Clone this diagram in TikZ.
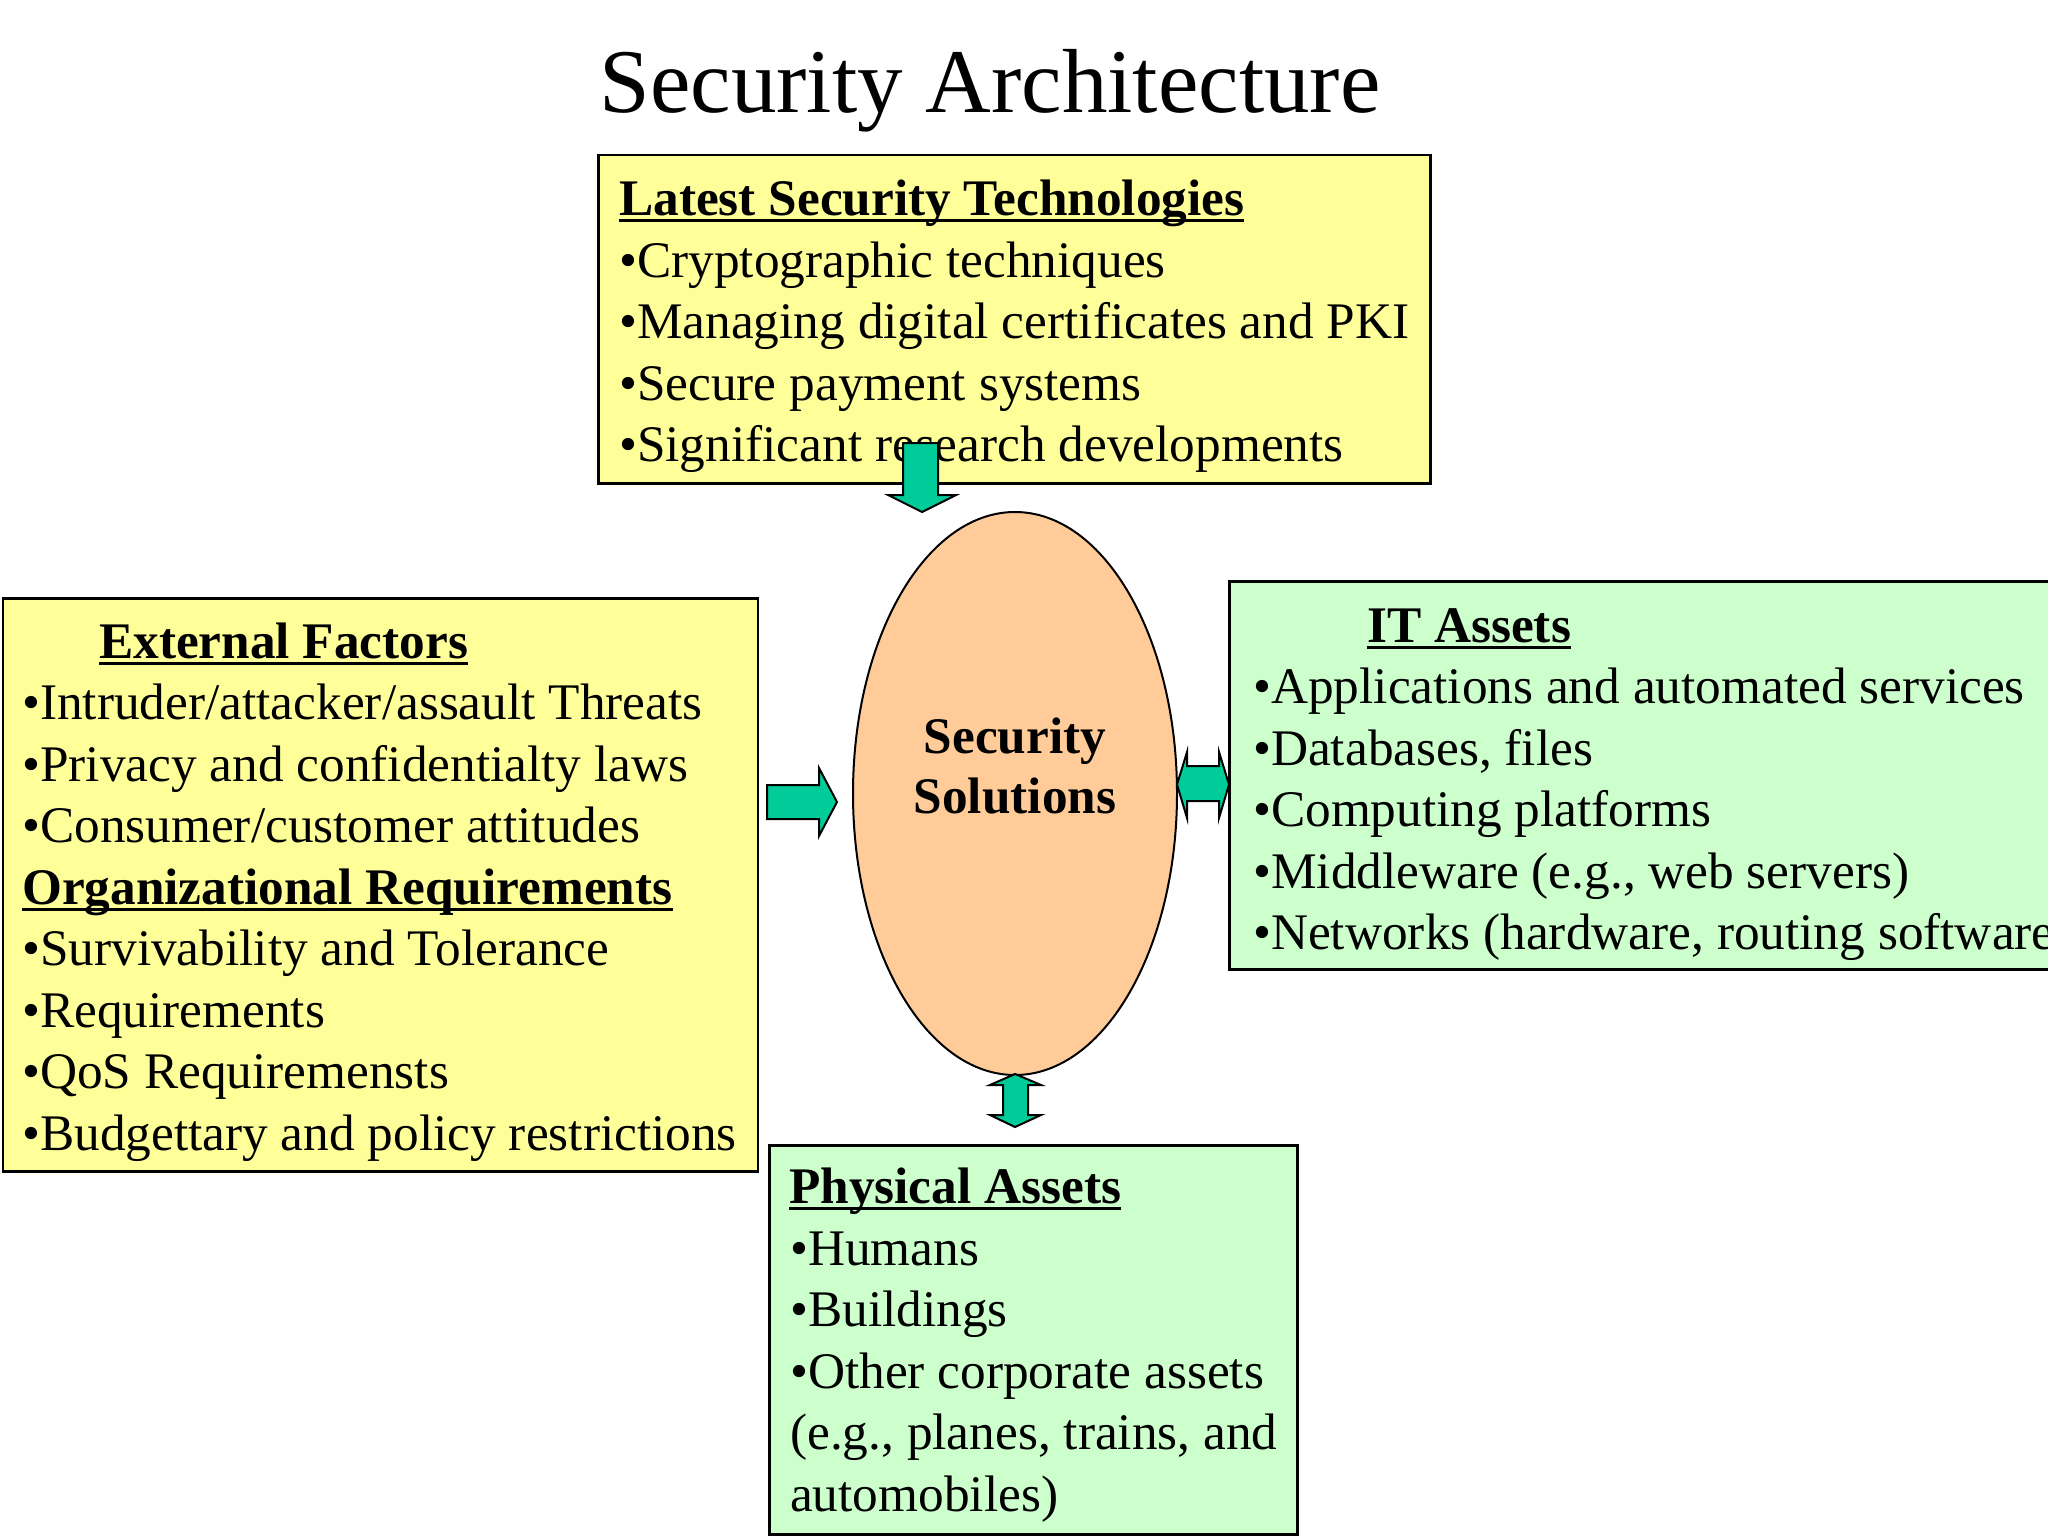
\documentclass[tikz,border=0pt]{standalone}
\usepackage{fontspec}
\setmainfont{Liberation Serif}
\usetikzlibrary{shapes.geometric}
\definecolor{boxyellow}{HTML}{FFFF99}
\definecolor{boxgreen}{HTML}{CCFFCC}
\definecolor{solorange}{HTML}{FFCC99}
\definecolor{arrowgreen}{HTML}{00CC99}
\newcommand{\bodyfont}{\fontsize{51.3}{61.5}\selectfont}
\begin{document}
\begin{tikzpicture}[x=1pt,y=-1pt,
  box/.style={draw=black,line width=2.5pt,rectangle,inner sep=0pt,anchor=north west},
  ybox/.style={box,fill=boxyellow},
  gbox/.style={box,fill=boxgreen},
  txt/.style={anchor=base west,inner sep=0pt,font=\bodyfont},
  headtxt/.style={txt,font=\bodyfont\bfseries},
  uline/.style={line width=3pt},
  blockarrow/.style={fill=arrowgreen,draw=black,line width=2pt,line join=miter},
]
\useasboundingbox (0,0) rectangle (2048,1536);
\clip (0,0) rectangle (2048,1536);

% title
\node[anchor=base,inner sep=0pt,font=\fontsize{91}{110}\selectfont] (title) at (990,113) {Security Architecture};

% boxes
\node[ybox,minimum width=832pt,minimum height=328pt] (topbox) at (597,154) {};
\node[ybox,minimum width=755pt,minimum height=573pt] (leftbox) at (1.5,597) {};
\node[gbox,minimum width=880pt,minimum height=388pt] (rightbox) at (1228,580) {};
\node[gbox,minimum width=528pt,minimum height=389pt] (botbox) at (768,1144) {};

% top box text
\node[headtxt] (th) at (619,215) {Latest Security Technologies};
\draw[uline] ([yshift=-5pt]th.base west) -- ([yshift=-5pt]th.base east);
\node[txt] (t1) at (619,277) {•Cryptographic techniques};
\node[txt] (t2) at (619,338) {•Managing digital certificates and PKI};
\node[txt] (t3) at (619,400) {•Secure payment systems};
\node[txt] (t4) at (619,461) {•Significant research developments};

% left box text
\node[headtxt] (lh1) at (99,658) {External Factors};
\draw[uline] ([yshift=-5pt]lh1.base west) -- ([yshift=-5pt]lh1.base east);
\node[txt] (l1) at (22,719) {•Intruder/attacker/assault Threats};
\node[txt] (l2) at (22,781) {•Privacy and confidentialty laws};
\node[txt] (l3) at (22,842) {•Consumer/customer attitudes};
\node[headtxt] (lh2) at (22,904) {Organizational Requirements};
\draw[uline] ([yshift=-5pt]lh2.base west) -- ([yshift=-5pt]lh2.base east);
\node[txt] (l4) at (22,965) {•Survivability and Tolerance};
\node[txt] (l5) at (22,1027) {•Requirements};
\node[txt] (l6) at (22,1088) {•QoS Requiremensts};
\node[txt] (l7) at (22,1150) {•Budgettary and policy restrictions};

% right box text
\node[headtxt] (rh) at (1367,642) {IT Assets};
\draw[uline] ([yshift=-5pt]rh.base west) -- ([yshift=-5pt]rh.base east);
\node[txt] (r1) at (1253,703) {•Applications and automated services};
\node[txt] (r2) at (1253,765) {•Databases, files};
\node[txt] (r3) at (1253,826) {•Computing platforms};
\node[txt] (r4) at (1253,888) {•Middleware (e.g., web servers)};
\node[txt] (r5) at (1253,949) {•Networks (hardware, routing software)};

% bottom box text
\node[headtxt] (bh) at (789,1203) {Physical Assets};
\draw[uline] ([yshift=-5pt]bh.base west) -- ([yshift=-5pt]bh.base east);
\node[txt] (b1) at (790,1265) {•Humans};
\node[txt] (b2) at (790,1326) {•Buildings};
\node[txt] (b3) at (790,1388) {•Other corporate assets};
\node[txt] (b4) at (790,1449) {(e.g., planes, trains, and};
\node[txt] (b5) at (790,1511) {automobiles)};

% central ellipse
\node[ellipse,draw=black,line width=2pt,fill=solorange,minimum width=324pt,minimum height=563pt,inner sep=0pt] (sol) at (1015,793.5) {};
\node[anchor=base,inner sep=0pt,font=\bodyfont\bfseries] (s1) at (1015,753) {Security};
\node[anchor=base,inner sep=0pt,font=\bodyfont\bfseries] (s2) at (1015,813) {Solutions};

% block arrows
\draw[blockarrow] (903,443) -- (938,443) -- (938,495) -- (956,495) -- (922,512) -- (888,495) -- (903,495) -- cycle;
\draw[blockarrow] (767,785) -- (819,785) -- (819,768) -- (837,802) -- (819,836) -- (819,819) -- (767,819) -- cycle;
\draw[blockarrow] (1177,784.5) -- (1187,752) -- (1187,766) -- (1219,766) -- (1219,752) -- (1229,784.5) -- (1219,818) -- (1219,801) -- (1187,801) -- (1187,818) -- cycle;
\draw[blockarrow] (1015,1074) -- (1041,1085) -- (1028,1085) -- (1028,1115) -- (1041,1115) -- (1015,1127) -- (990,1115) -- (1003,1115) -- (1003,1085) -- (990,1085) -- cycle;
\end{tikzpicture}
\end{document}
